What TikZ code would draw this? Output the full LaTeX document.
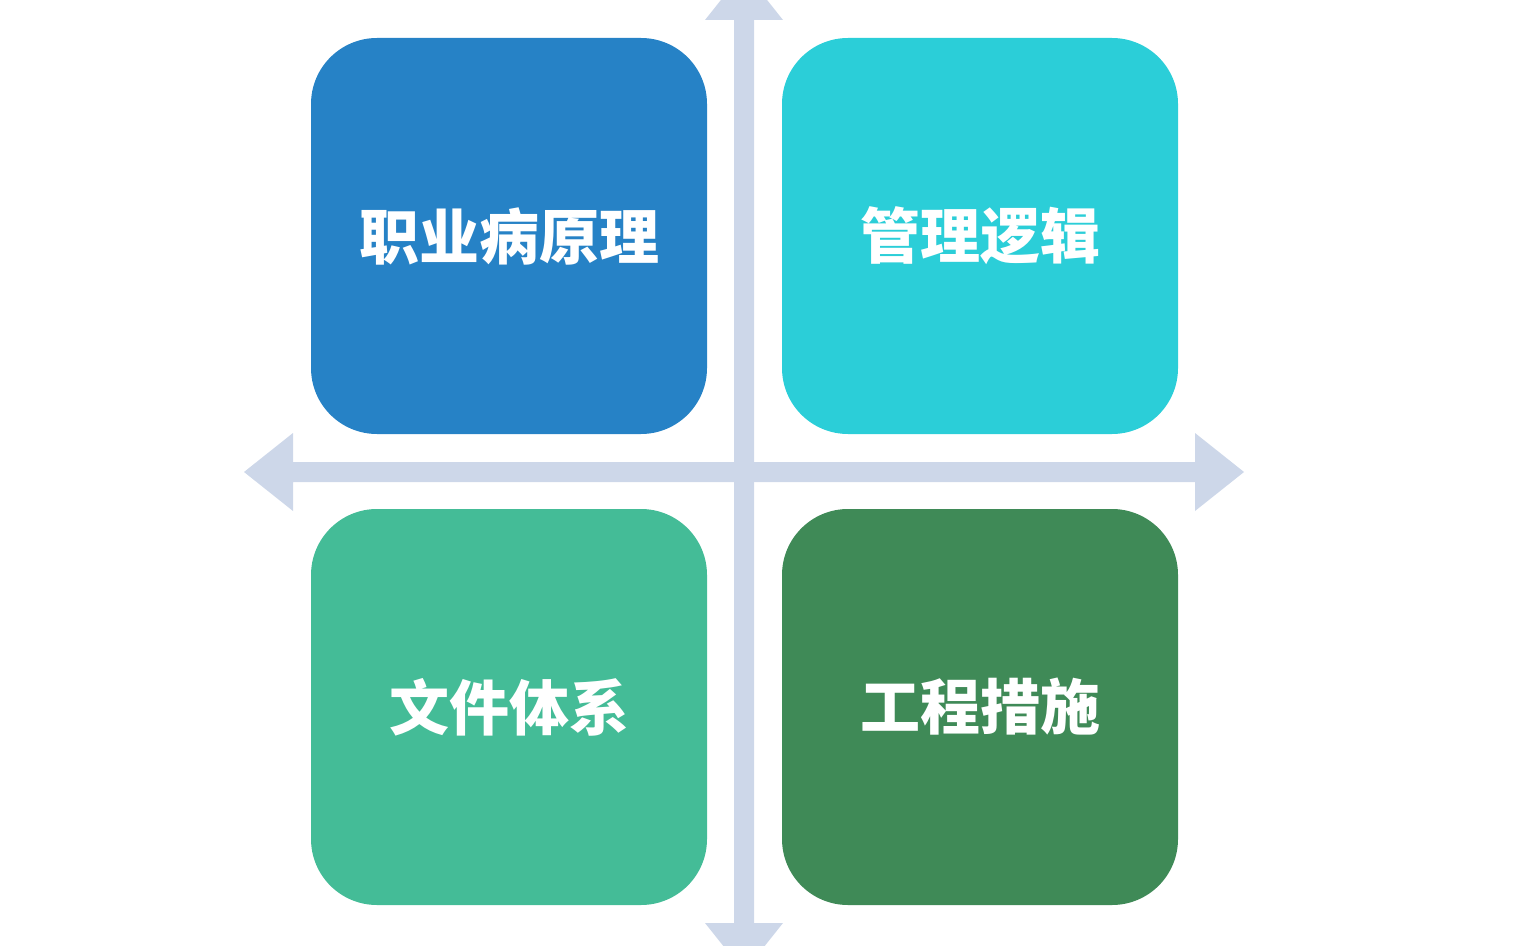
\documentclass[tikz,border=0pt]{standalone}
\usepackage{fontspec}
\usepackage{xcolor}
\usepackage{tikz}
\usetikzlibrary{positioning}
\newfontfamily\cjk{Noto Sans CJK SC}
\definecolor{axiscol}{HTML}{CDD7E9}
\definecolor{qblue}{HTML}{2682C6}
\definecolor{qcyan}{HTML}{2BCED8}
\definecolor{qmint}{HTML}{44BC97}
\definecolor{qgreen}{HTML}{3F8A57}
\tikzset{
  quad/.style={rectangle, rounded corners=33pt, minimum size=198pt, inner sep=0pt,
    text=white, font=\cjk\bfseries\fontsize{30}{36}\selectfont},
  axis/.style={fill=axiscol}
}

\begin{document}
\begin{tikzpicture}[x=0.5pt,y=-0.5pt]
    \clip (0,0) rectangle (1514,946);
    % Axes
    \fill[axis] (744,-29) -- (783,20) -- (754,20) -- (754,923) -- (783,923) -- (744,972)
        -- (705,923) -- (734,923) -- (734,20) -- (705,20) -- cycle;
    \fill[axis] (244,472) -- (293,433) -- (293,462) -- (1195,462) -- (1195,433) -- (1244,472)
        -- (1195,511) -- (1195,482) -- (293,482) -- (293,511) -- cycle;

    % Quadrants
    \node[quad, fill=qblue] (yuanli) at (509,236) {职业病原理};
    \node[quad, fill=qcyan] (luoji) at (980,236) {管理逻辑};
    \node[quad, fill=qmint] (wenjian) at (509,707) {文件体系};
    \node[quad, fill=qgreen] (gongcheng) at (980,707) {工程措施};
\end{tikzpicture}
\end{document}
